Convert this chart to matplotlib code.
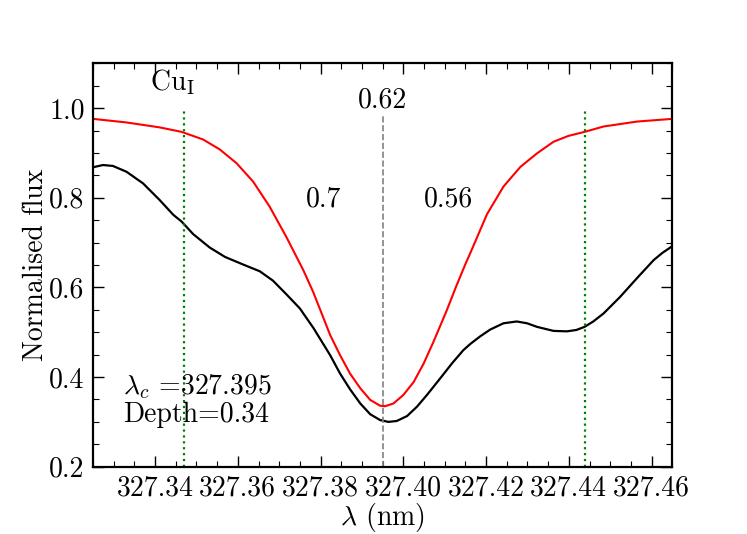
import matplotlib
matplotlib.use('Agg')
import matplotlib.pyplot as plt
from matplotlib.ticker import MultipleLocator, FormatStrFormatter

plt.rcParams['font.family'] = 'serif'
plt.rcParams['font.serif'] = ['cmr10']
plt.rcParams['mathtext.fontset'] = 'cm'
plt.rcParams['axes.formatter.use_mathtext'] = True

# fitted profile (red)
wl_fit = [327.3250, 327.3331, 327.3411, 327.3464, 327.3516, 327.3556, 327.3597,
          327.3637, 327.3677, 327.3717, 327.3758, 327.3782, 327.3803, 327.3823,
          327.3847, 327.3871, 327.3896, 327.3920, 327.3944, 327.3956, 327.3976,
          327.4000, 327.4025, 327.4049, 327.4073, 327.4105, 327.4128, 327.4150,
          327.4162, 327.4202, 327.4242, 327.4283, 327.4323, 327.4363, 327.4399,
          327.4438, 327.4484, 327.4565, 327.4650]
flux_fit = [0.976, 0.968, 0.957, 0.947, 0.930, 0.908, 0.877,
            0.836, 0.780, 0.713, 0.639, 0.590, 0.541, 0.494,
            0.449, 0.408, 0.375, 0.349, 0.336, 0.335, 0.341,
            0.360, 0.389, 0.430, 0.479, 0.549, 0.603, 0.652,
            0.677, 0.763, 0.825, 0.869, 0.899, 0.925, 0.938,
            0.947, 0.959, 0.970, 0.976]

# observed spectrum (black)
wl_obs = [327.3250, 327.3274, 327.3298, 327.3331, 327.3371, 327.3411, 327.3444,
          327.3464, 327.3492, 327.3532, 327.3569, 327.3613, 327.3653, 327.3685,
          327.3717, 327.3750, 327.3783, 327.3803, 327.3823, 327.3847, 327.3871,
          327.3896, 327.3920, 327.3944, 327.3964, 327.3984, 327.4009, 327.4033,
          327.4057, 327.4089, 327.4118, 327.4145, 327.4162, 327.4186, 327.4210,
          327.4242, 327.4274, 327.4299, 327.4323, 327.4363, 327.4395, 327.4418,
          327.4438, 327.4459, 327.4484, 327.4524, 327.4565, 327.4605, 327.4626,
          327.4650]
flux_obs = [0.868, 0.873, 0.871, 0.858, 0.832, 0.795, 0.762,
            0.747, 0.719, 0.689, 0.668, 0.651, 0.636, 0.615,
            0.585, 0.553, 0.509, 0.479, 0.449, 0.408, 0.373,
            0.341, 0.317, 0.304, 0.300, 0.302, 0.313, 0.334,
            0.360, 0.397, 0.431, 0.460, 0.474, 0.491, 0.506,
            0.520, 0.524, 0.520, 0.512, 0.503, 0.502, 0.505,
            0.512, 0.524, 0.542, 0.579, 0.621, 0.661, 0.677,
            0.692]

line_center = 327.395
line_limits = [327.347, 327.444]
left_w, right_w, total_w = '0.7', '0.56', '0.62'
depth = 0.34

fig = plt.figure(figsize=(7.47, 5.34), dpi=100)
ax = fig.add_axes([0.1245, 0.126, 0.7755, 0.7555])

ax.plot(wl_fit, flux_fit, color='red', lw=1.5)
ax.plot(wl_obs, flux_obs, color='black', lw=1.6)

for xl in line_limits:
    ax.vlines(xl, 0.2, 0.996, colors='green', linestyles=':', lw=1.6)
ax.vlines(line_center, 0.2, 0.984, colors='gray', linestyles='--', lw=1.2)

fs = 20
ax.text(327.3443, 1.058, r'Cu$_{\rm I}$', fontsize=fs, ha='center', va='center')
ax.text(line_center, 1.018, total_w, fontsize=fs, ha='center', va='center')
ax.text(327.3808, 0.797, left_w, fontsize=fs, ha='center', va='center')
ax.text(327.4110, 0.797, right_w, fontsize=fs, ha='center', va='center')
ax.text(327.3323, 0.378, r'$\lambda_c$ =' + '%.3f' % line_center, fontsize=fs,
        ha='left', va='center')
ax.text(327.3323, 0.315, 'Depth=%.2f' % depth, fontsize=fs, ha='left', va='center')

ax.set_xlim(327.325, 327.465)
ax.set_ylim(0.2, 1.1)
ax.xaxis.set_major_locator(MultipleLocator(0.02))
ax.xaxis.set_minor_locator(MultipleLocator(0.005))
ax.yaxis.set_major_locator(MultipleLocator(0.2))
ax.yaxis.set_minor_locator(MultipleLocator(0.05))
ax.xaxis.set_major_formatter(FormatStrFormatter('%.2f'))
ax.yaxis.set_major_formatter(FormatStrFormatter('%.1f'))

ax.tick_params(which='both', direction='in', top=True, right=True, labelsize=fs)
ax.tick_params(which='major', length=8, width=1.0, pad=6)
ax.tick_params(which='minor', length=4.5, width=0.8)
for s in ax.spines.values():
    s.set_linewidth(1.6)

ax.set_xlabel(r'$\lambda$ (nm)', fontsize=fs, labelpad=0)
ax.set_ylabel('Normalised flux', fontsize=fs, labelpad=0)

plt.savefig('out.png', dpi=100)
